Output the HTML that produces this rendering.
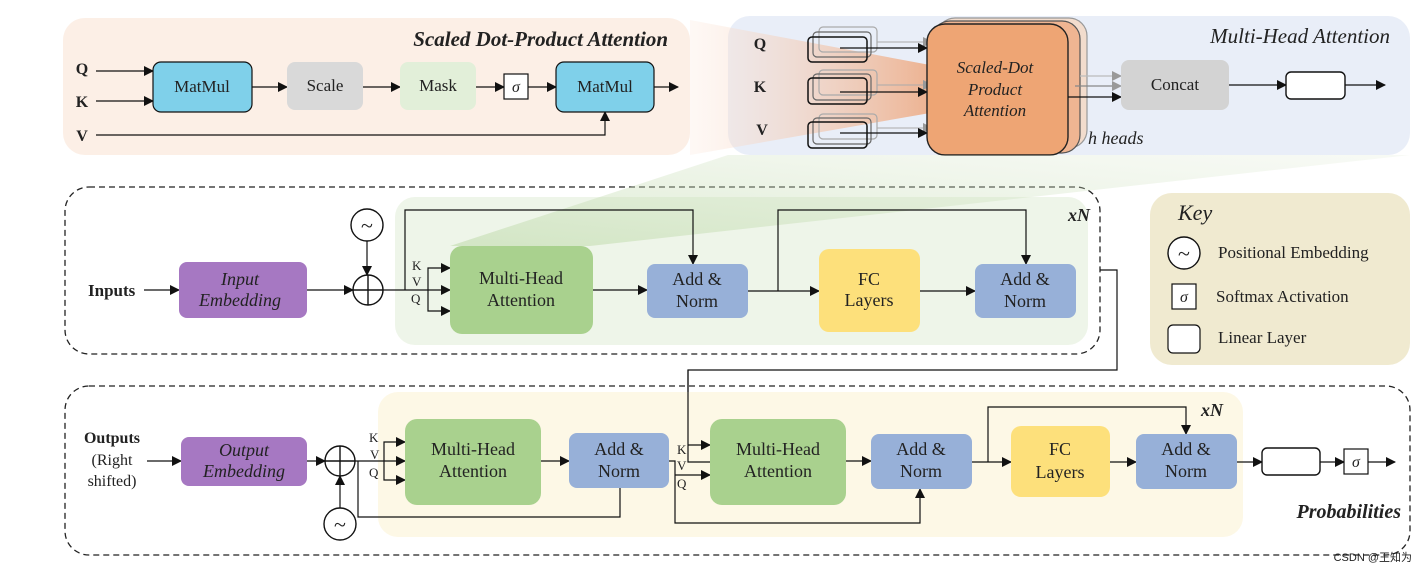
<!DOCTYPE html>
<html><head><meta charset="utf-8"><style>
html,body{margin:0;padding:0;background:#fff;}
svg{display:block;}
text{font-family:"Liberation Serif","DejaVu Serif",serif;fill:#222;}
.b{font-weight:bold;}
.i{font-style:italic;}
</style></head><body>
<svg width="1426" height="574" viewBox="0 0 1426 574" xmlns="http://www.w3.org/2000/svg">
<defs>
<marker id="a" markerWidth="10" markerHeight="10" refX="9" refY="5" orient="auto" markerUnits="userSpaceOnUse"><path d="M0,0 L10,5 L0,10 z" fill="#111"/></marker>
<marker id="ag" markerWidth="10" markerHeight="10" refX="9" refY="5" orient="auto" markerUnits="userSpaceOnUse"><path d="M0,0 L10,5 L0,10 z" fill="#999"/></marker>
<linearGradient id="og" x1="0" x2="1" y1="0" y2="0"><stop offset="0" stop-color="#fbe9de" stop-opacity="0.3"/><stop offset="1" stop-color="#ee9f70" stop-opacity="0.75"/></linearGradient>
<linearGradient id="gg" x1="0" x2="1" y1="1" y2="0"><stop offset="0" stop-color="#b7d6a0" stop-opacity="0.9"/><stop offset="1" stop-color="#dde8d2" stop-opacity="0.4"/></linearGradient>
</defs>
<rect x="63" y="18" width="627" height="137" rx="22" fill="#fcefe6"/>
<rect x="728" y="16" width="682" height="139" rx="22" fill="#e9eef8"/>
<polygon points="690,20 930,65 930,113 690,155" fill="url(#og)"/>
<text x="668" y="46" class="b i" font-size="21" text-anchor="end">Scaled Dot-Product Attention</text>
<text x="82" y="74" class="b" font-size="16" text-anchor="middle">Q</text>
<text x="82" y="107" class="b" font-size="16" text-anchor="middle">K</text>
<text x="82" y="141" class="b" font-size="16" text-anchor="middle">V</text>
<g stroke="#111" stroke-width="1.2" fill="none">
<line x1="96" y1="71" x2="153" y2="71" marker-end="url(#a)"/>
<line x1="96" y1="101" x2="153" y2="101" marker-end="url(#a)"/>
<polyline points="96,135 605,135 605,112" marker-end="url(#a)"/>
<line x1="252" y1="87" x2="287" y2="87" marker-end="url(#a)"/>
<line x1="363" y1="87" x2="400" y2="87" marker-end="url(#a)"/>
<line x1="476" y1="87" x2="504" y2="87" marker-end="url(#a)"/>
<line x1="528" y1="87" x2="556" y2="87" marker-end="url(#a)"/>
<line x1="654" y1="87" x2="678" y2="87" marker-end="url(#a)"/>
</g>
<rect x="153" y="62" width="99" height="50" rx="8" fill="#7fd0ea" stroke="#111" stroke-width="1.2"/>
<text x="202" y="92" font-size="17" text-anchor="middle">MatMul</text>
<rect x="287" y="62" width="76" height="48" rx="8" fill="#d9d9d9"/>
<text x="325" y="91" font-size="17" text-anchor="middle" fill="#444">Scale</text>
<rect x="400" y="62" width="76" height="48" rx="8" fill="#e2efd9"/>
<text x="438" y="91" font-size="17" text-anchor="middle" fill="#444">Mask</text>
<rect x="504" y="74" width="24" height="25" fill="#fff" stroke="#111" stroke-width="1.2"/>
<text x="516" y="92" class="i" font-size="16" text-anchor="middle">σ</text>
<rect x="556" y="62" width="98" height="50" rx="8" fill="#7fd0ea" stroke="#111" stroke-width="1.2"/>
<text x="605" y="92" font-size="17" text-anchor="middle">MatMul</text>
<text x="1390" y="43" class="i" font-size="21" text-anchor="end">Multi-Head Attention</text>
<text x="760" y="49" class="b" font-size="16" text-anchor="middle">Q</text>
<text x="760" y="92" class="b" font-size="16" text-anchor="middle">K</text>
<text x="762" y="135" class="b" font-size="16" text-anchor="middle">V</text>
<g fill="none">
<g stroke="#aaa" stroke-width="1.2">
<rect x="819" y="27" width="58" height="25" rx="4"/><rect x="819" y="70" width="58" height="25" rx="4"/><rect x="819" y="114" width="58" height="25" rx="4"/>
</g>
<g stroke="#666" stroke-width="1.2">
<rect x="813" y="32" width="58" height="25" rx="4"/><rect x="813" y="74" width="58" height="26" rx="4"/><rect x="813" y="118" width="58" height="26" rx="4"/>
</g>
<g stroke="#111" stroke-width="1.5">
<rect x="808" y="37" width="59" height="25" rx="4"/><rect x="808" y="78" width="59" height="26" rx="4"/><rect x="808" y="122" width="59" height="26" rx="4"/>
</g>
<g stroke="#aaa" stroke-width="1"><line x1="877" y1="42" x2="932" y2="42" marker-end="url(#ag)"/><line x1="877" y1="85" x2="932" y2="85" marker-end="url(#ag)"/><line x1="877" y1="128" x2="932" y2="128" marker-end="url(#ag)"/></g>
<g stroke="#111" stroke-width="1.2"><line x1="840" y1="48" x2="927" y2="48" marker-end="url(#a)"/><line x1="840" y1="92" x2="927" y2="92" marker-end="url(#a)"/><line x1="840" y1="133" x2="927" y2="133" marker-end="url(#a)"/></g>
</g>
<rect x="937" y="18" width="150" height="130" rx="18" fill="#f2dccd" stroke="#999" stroke-width="1.2"/>
<rect x="932" y="21" width="148" height="132" rx="18" fill="#efb592" stroke="#555" stroke-width="1.2"/>
<rect x="927" y="24" width="141" height="131" rx="18" fill="#eea574" stroke="#222" stroke-width="1.4"/>
<text x="995" y="73" class="i" font-size="17" text-anchor="middle" fill="#333">Scaled-Dot</text>
<text x="995" y="95" class="i" font-size="17" text-anchor="middle" fill="#333">Product</text>
<text x="995" y="116" class="i" font-size="17" text-anchor="middle" fill="#333">Attention</text>
<text x="1088" y="144" class="i" font-size="18">h heads</text>
<g fill="none" stroke-width="1.2">
<line x1="1080" y1="76" x2="1121" y2="76" stroke="#bbb" marker-end="url(#ag)"/>
<line x1="1075" y1="86" x2="1121" y2="86" stroke="#888" marker-end="url(#ag)"/>
<line x1="1068" y1="97" x2="1121" y2="97" stroke="#111" marker-end="url(#a)"/>
<line x1="1229" y1="85" x2="1286" y2="85" stroke="#111" marker-end="url(#a)"/>
<line x1="1345" y1="85" x2="1385" y2="85" stroke="#111" marker-end="url(#a)"/>
</g>
<rect x="1121" y="60" width="108" height="50" rx="8" fill="#d3d3d3"/>
<text x="1175" y="90" font-size="17" text-anchor="middle" fill="#444">Concat</text>
<rect x="1286" y="72" width="59" height="27" rx="5" fill="#fff" stroke="#111" stroke-width="1.4"/>
<!-- encoder -->
<rect x="65" y="187" width="1035" height="167" rx="24" fill="none" stroke="#222" stroke-width="1.3" stroke-dasharray="6,4"/>
<rect x="395" y="197" width="693" height="148" rx="20" fill="#eef5e9"/>
<polygon points="728,155 1410,155 590,246 450,246" fill="url(#gg)" opacity="0.55"/>
<text x="1068" y="221" class="b i" font-size="18">xN</text>
<text x="88" y="296" class="b" font-size="17">Inputs</text>
<g fill="none" stroke="#111" stroke-width="1.2">
<line x1="144" y1="290" x2="179" y2="290" marker-end="url(#a)"/>
<line x1="307" y1="290" x2="353" y2="290" marker-end="url(#a)"/>
<line x1="367" y1="241" x2="367" y2="275" marker-end="url(#a)"/>
<line x1="383" y1="290" x2="450" y2="290" marker-end="url(#a)"/>
<polyline points="428,290 428,268 450,268" marker-end="url(#a)"/>
<polyline points="428,290 428,311 450,311" marker-end="url(#a)"/>
<polyline points="405,290 405,210 693,210 693,264" marker-end="url(#a)"/>
<line x1="593" y1="290" x2="647" y2="290" marker-end="url(#a)"/>
<line x1="748" y1="291" x2="819" y2="291" marker-end="url(#a)"/>
<polyline points="778,291 778,210 1026,210 1026,264" marker-end="url(#a)"/>
<line x1="920" y1="291" x2="975" y2="291" marker-end="url(#a)"/>
<polyline points="1100,270 1117,270 1117,370 688,370 688,462 710,462" marker-end="url(#a)"/>
</g>
<circle cx="367" cy="225" r="16" fill="#fff" stroke="#111" stroke-width="1.4"/>
<text x="367" y="233" font-size="22" text-anchor="middle">~</text>
<circle cx="368" cy="290" r="15" fill="#fff" stroke="#111" stroke-width="1.4"/>
<path d="M353,290 H383 M368,275 V305" stroke="#111" stroke-width="1.4"/>
<rect x="179" y="262" width="128" height="56" rx="8" fill="#a678c2"/>
<text x="240" y="285" class="i" font-size="18" text-anchor="middle">Input</text>
<text x="240" y="306" class="i" font-size="18" text-anchor="middle">Embedding</text>
<text x="412" y="270" font-size="13">K</text><text x="412" y="286" font-size="13">V</text><text x="411" y="303" font-size="13">Q</text>
<rect x="450" y="246" width="143" height="88" rx="12" fill="#a9d18e"/>
<text x="521" y="284" font-size="18" text-anchor="middle">Multi-Head</text>
<text x="521" y="306" font-size="18" text-anchor="middle">Attention</text>
<rect x="647" y="264" width="101" height="54" rx="8" fill="#97b0d8"/>
<text x="697" y="285" font-size="18" text-anchor="middle">Add &amp;</text>
<text x="697" y="307" font-size="18" text-anchor="middle">Norm</text>
<rect x="819" y="249" width="101" height="83" rx="10" fill="#fde07b"/>
<text x="869" y="285" font-size="18" text-anchor="middle">FC</text>
<text x="869" y="306" font-size="18" text-anchor="middle">Layers</text>
<rect x="975" y="264" width="101" height="54" rx="8" fill="#97b0d8"/>
<text x="1025" y="285" font-size="18" text-anchor="middle">Add &amp;</text>
<text x="1025" y="307" font-size="18" text-anchor="middle">Norm</text>
<!-- key -->
<rect x="1150" y="193" width="260" height="172" rx="22" fill="#f0ead0"/>
<text x="1178" y="220" class="i" font-size="22">Key</text>
<circle cx="1184" cy="253" r="16" fill="#fff" stroke="#111" stroke-width="1.4"/>
<text x="1184" y="261" font-size="22" text-anchor="middle">~</text>
<text x="1218" y="258" font-size="17">Positional Embedding</text>
<rect x="1172" y="284" width="24" height="25" fill="#fff" stroke="#111" stroke-width="1.2"/>
<text x="1184" y="302" class="i" font-size="16" text-anchor="middle">σ</text>
<text x="1216" y="302" font-size="17">Softmax Activation</text>
<rect x="1168" y="325" width="32" height="28" rx="5" fill="#fff" stroke="#111" stroke-width="1.2"/>
<text x="1218" y="343" font-size="17">Linear Layer</text>
<!-- decoder -->
<rect x="65" y="386" width="1345" height="169" rx="24" fill="none" stroke="#222" stroke-width="1.3" stroke-dasharray="6,4"/>
<rect x="378" y="392" width="865" height="145" rx="20" fill="#fdf8e6"/>
<text x="1201" y="416" class="b i" font-size="18">xN</text>
<text x="1401" y="518" class="b i" font-size="20" text-anchor="end">Probabilities</text>
<text x="112" y="443" class="b" font-size="16" text-anchor="middle">Outputs</text>
<text x="112" y="465" font-size="16" text-anchor="middle">(Right</text>
<text x="112" y="486" font-size="16" text-anchor="middle">shifted)</text>
<g fill="none" stroke="#111" stroke-width="1.2">
<polyline points="688,370 688,462 710,462"/>
<line x1="147" y1="461" x2="181" y2="461" marker-end="url(#a)"/>
<line x1="307" y1="461" x2="325" y2="461" marker-end="url(#a)"/>
<line x1="340" y1="508" x2="340" y2="476" marker-end="url(#a)"/>
<line x1="355" y1="461" x2="405" y2="461" marker-end="url(#a)"/>
<polyline points="384,461 384,442 405,442" marker-end="url(#a)"/>
<polyline points="384,461 384,480 405,480" marker-end="url(#a)"/>
<polyline points="358,461 358,517 620,517 620,488"/>
<line x1="541" y1="461" x2="569" y2="461" marker-end="url(#a)"/>
<polyline points="669,461 675,461 675,523 920,523 920,489" marker-end="url(#a)"/>
<polyline points="675,475 690,475 710,475" marker-end="url(#a)"/>
<polyline points="688,445 710,445" marker-end="url(#a)"/>
<line x1="846" y1="461" x2="871" y2="461" marker-end="url(#a)"/>
<line x1="972" y1="462" x2="1011" y2="462" marker-end="url(#a)"/>
<polyline points="988,462 988,407 1186,407 1186,434" marker-end="url(#a)"/>
<line x1="1110" y1="462" x2="1136" y2="462" marker-end="url(#a)"/>
<line x1="1237" y1="462" x2="1262" y2="462" marker-end="url(#a)"/>
<line x1="1320" y1="462" x2="1344" y2="462" marker-end="url(#a)"/>
<line x1="1368" y1="462" x2="1395" y2="462" marker-end="url(#a)"/>
</g>
<circle cx="340" cy="461" r="15" fill="#fff" stroke="#111" stroke-width="1.4"/>
<path d="M325,461 H355 M340,446 V476" stroke="#111" stroke-width="1.4"/>
<circle cx="340" cy="524" r="16" fill="#fff" stroke="#111" stroke-width="1.4"/>
<text x="340" y="532" font-size="22" text-anchor="middle">~</text>
<rect x="181" y="437" width="126" height="49" rx="8" fill="#a678c2"/>
<text x="244" y="456" class="i" font-size="18" text-anchor="middle">Output</text>
<text x="244" y="477" class="i" font-size="18" text-anchor="middle">Embedding</text>
<text x="369" y="442" font-size="13">K</text><text x="370" y="459" font-size="13">V</text><text x="369" y="477" font-size="13">Q</text>
<rect x="405" y="419" width="136" height="86" rx="12" fill="#a9d18e"/>
<text x="473" y="455" font-size="18" text-anchor="middle">Multi-Head</text>
<text x="473" y="477" font-size="18" text-anchor="middle">Attention</text>
<rect x="569" y="433" width="100" height="55" rx="8" fill="#97b0d8"/>
<text x="619" y="455" font-size="18" text-anchor="middle">Add &amp;</text>
<text x="619" y="477" font-size="18" text-anchor="middle">Norm</text>
<text x="677" y="454" font-size="13">K</text><text x="677" y="470" font-size="13">V</text><text x="677" y="488" font-size="13">Q</text>
<rect x="710" y="419" width="136" height="86" rx="12" fill="#a9d18e"/>
<text x="778" y="455" font-size="18" text-anchor="middle">Multi-Head</text>
<text x="778" y="477" font-size="18" text-anchor="middle">Attention</text>
<rect x="871" y="434" width="101" height="55" rx="8" fill="#97b0d8"/>
<text x="921" y="455" font-size="18" text-anchor="middle">Add &amp;</text>
<text x="921" y="477" font-size="18" text-anchor="middle">Norm</text>
<rect x="1011" y="426" width="99" height="71" rx="10" fill="#fde07b"/>
<text x="1060" y="455" font-size="18" text-anchor="middle">FC</text>
<text x="1060" y="478" font-size="18" text-anchor="middle">Layers</text>
<rect x="1136" y="434" width="101" height="55" rx="8" fill="#97b0d8"/>
<text x="1186" y="455" font-size="18" text-anchor="middle">Add &amp;</text>
<text x="1186" y="477" font-size="18" text-anchor="middle">Norm</text>
<rect x="1262" y="448" width="58" height="27" rx="5" fill="#fff" stroke="#111" stroke-width="1.4"/>
<rect x="1344" y="449" width="24" height="25" fill="#fff" stroke="#111" stroke-width="1.2"/>
<text x="1356" y="467" class="i" font-size="16" text-anchor="middle">σ</text>
<text x="1412" y="561" font-size="11" text-anchor="end" fill="#aaa" style="font-family:'Liberation Sans','Noto Sans CJK SC',sans-serif">CSDN @王知为</text>
</svg>
</body></html>
